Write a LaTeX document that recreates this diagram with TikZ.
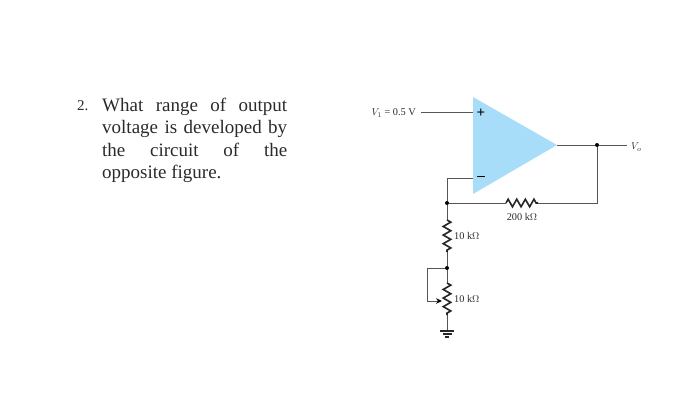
\documentclass[tikz,border=0pt]{standalone}
\usepackage{fontspec}
\setmainfont{Liberation Serif}
\usetikzlibrary{decorations.pathmorphing,arrows.meta}
\definecolor{ampblue}{HTML}{A8DDF9}
\definecolor{wiregray}{HTML}{555555}
\definecolor{textgray}{HTML}{2A2A2A}
\tikzset{
	wire/.style={draw=wiregray,line width=1pt},
	res/.style={draw=black!85,line width=1.6pt,decorate,decoration={zigzag,amplitude=3.8pt,segment length=8.6pt}},
	dot/.style={circle,fill=black,inner sep=0pt,minimum size=4pt},
	lab/.style={font=\fontsize{10.3}{12}\selectfont,text=textgray,inner sep=0pt},
	sign/.style={font=\bfseries\fontsize{15}{15}\selectfont,inner sep=0pt}
}
\begin{document}
\begin{tikzpicture}[x=1pt,y=-1pt]
	  \useasboundingbox (0,0) rectangle (700,409);
	  % question text
	  \node[anchor=north west,inner sep=0pt,text=textgray,font=\fontsize{15}{22.4}\selectfont] (num) at (77,100) {2.};
	  \node[anchor=north west,inner sep=0pt,text=textgray,text width=185pt,align=justify,font=\fontsize{19}{22.4}\selectfont] (question) at (102,98) {What range of output\linebreak voltage is developed by\linebreak the circuit of the\linebreak opposite figure.};
	  % op amp
	  \coordinate (A) at (473,97);
	  \coordinate (B) at (473,194);
	  \coordinate (C) at (557,145);
	  \fill[ampblue] (A) -- (B) -- (C) -- cycle;
	  \node[sign] (plus) at (481,113) {+};
	  \node[sign] (minus) at (481,178) {--};
	  % input
	  \node[lab,anchor=east] (vin) at (416,113) {$V_1$ = 0.5 V};
	  \coordinate (P) at (473,112);
	  \coordinate (In) at (421,112);
	  \draw[wire] (In) -- (P);
	  % output and feedback
	  \node[dot] (out) at (597,145) {};
	  \coordinate (Oe) at (627,145);
	  \node[lab,anchor=west] (vo) at (631,147) {$V_o$};
	  \draw[wire] (C) -- (out);
	  \draw[wire] (out) -- (Oe);
	  \coordinate (N) at (473,178);
	  \coordinate (Nc) at (447,178);
	  \node[dot] (fb) at (447,203) {};
	  \coordinate (Ra) at (506,203);
	  \coordinate (Rb) at (538,203);
	  \coordinate (Rc) at (597,203);
	  \draw[wire] (N) -- (Nc) -- (fb) -- (Ra);
	  \draw[wire] (Rb) -- (Rc) -- (out);
	  \draw[res] (Ra) -- (Rb);
	  \node[lab] (rf) at (522,216.5) {200 k$\Omega$};
	  % lower divider
	  \coordinate (Ua) at (447,220);
	  \coordinate (Ub) at (447,252);
	  \node[dot] (mid) at (447,268) {};
	  \coordinate (La) at (447,283);
	  \coordinate (Lb) at (447,315);
	  \coordinate (G) at (447,331);
	  \draw[wire] (fb) -- (Ua);
	  \draw[res] (Ua) -- (Ub);
	  \draw[wire] (Ub) -- (mid);
	  \draw[wire] (mid) -- (La);
	  \draw[res] (La) -- (Lb);
	  \draw[wire] (Lb) -- (G);
	  \node[lab,anchor=west] (r1) at (454,235.5) {10 k$\Omega$};
	  \node[lab,anchor=west] (r2) at (454,299) {10 k$\Omega$};
	  % wiper
	  \coordinate (Wa) at (427,268);
	  \coordinate (Wb) at (427,301);
	  \coordinate (Wc) at (442,301);
	  \draw[wire,-{Stealth[length=6pt,width=5.5pt,color=black]}] (mid) -- (Wa) -- (Wb) -- (Wc);
	  % ground
	  \draw[black!85,line width=1.2pt] (440,331) -- (454,331);
	  \draw[black!85,line width=1.2pt] (442.5,334) -- (451.5,334);
	  \draw[black!85,line width=1.2pt] (445,337) -- (449,337);
\end{tikzpicture}
\end{document}
